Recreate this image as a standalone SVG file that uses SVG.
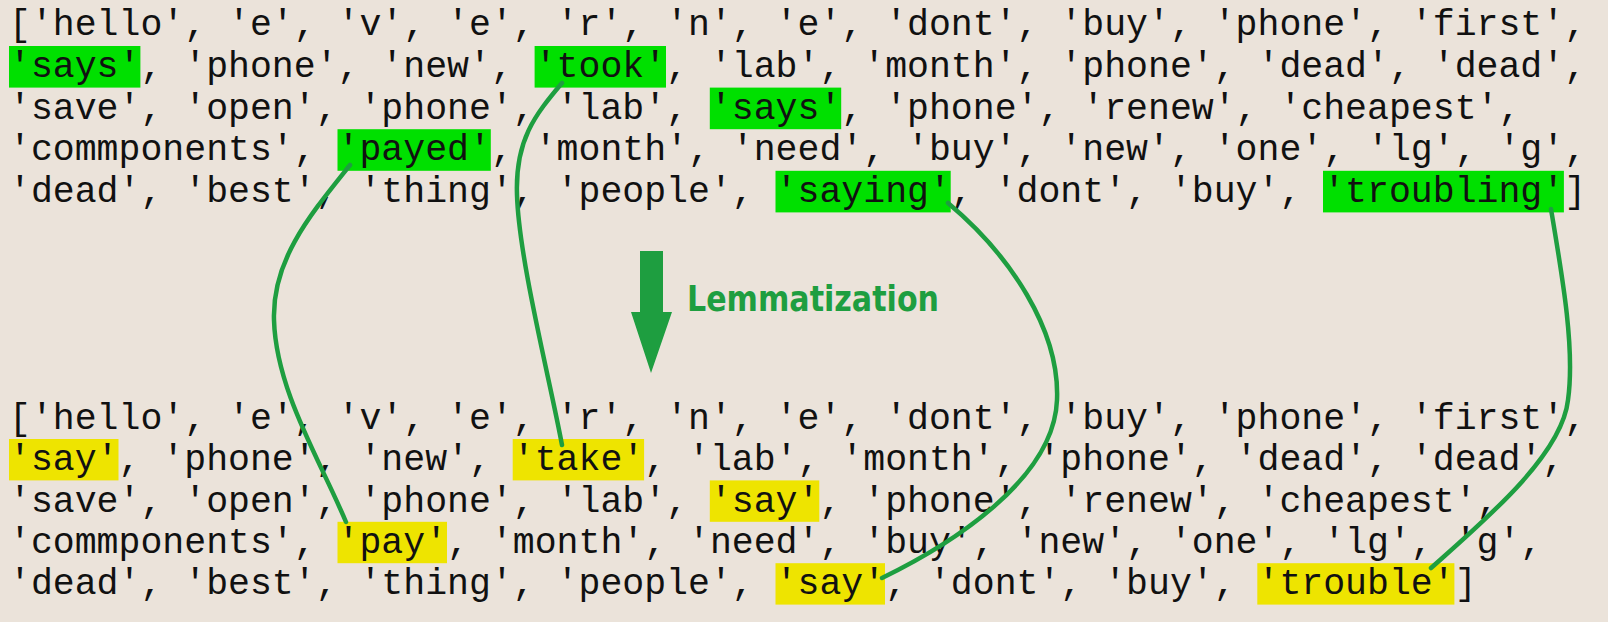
<svg xmlns="http://www.w3.org/2000/svg" width="1608" height="622" viewBox="0 0 1608 622">
<style>
  .bg { fill: #ebe3da; }
  .code { font-family: "Liberation Mono", "Courier New", monospace; font-size: 36.5px; fill: #111111; }
  .hg { fill: #00e000; }
  .hy { fill: #eee400; }
  .link { fill: none; stroke: #1e9e40; stroke-width: 4.5; stroke-linecap: round; }
  .arrow { fill: #1e9e40; }
  .label { font-family: "Comic Sans MS", "DejaVu Sans", sans-serif; font-weight: bold; font-size: 36px; fill: #1e9e40; }
</style>
<rect class="bg" x="0" y="0" width="1608" height="622"/>

<g id="original-tokens">
  <rect class="hg" x="9" y="46" width="131.4" height="41.6"/>
  <rect class="hg" x="534.6" y="46" width="131.4" height="41.6"/>
  <rect class="hg" x="709.8" y="87.6" width="131.4" height="41.6"/>
  <rect class="hg" x="337.5" y="129.2" width="153.3" height="41.6"/>
  <rect class="hg" x="775.5" y="170.8" width="175.2" height="41.6"/>
  <rect class="hg" x="1323" y="170.8" width="240.9" height="41.6"/>
  <text class="code" x="9" y="35.4">['hello', 'e', 'v', 'e', 'r', 'n', 'e', 'dont', 'buy', 'phone', 'first',</text>
  <text class="code" x="9" y="77">'says', 'phone', 'new', 'took', 'lab', 'month', 'phone', 'dead', 'dead',</text>
  <text class="code" x="9" y="118.6">'save', 'open', 'phone', 'lab', 'says', 'phone', 'renew', 'cheapest',</text>
  <text class="code" x="9" y="160.2">'commponents', 'payed', 'month', 'need', 'buy', 'new', 'one', 'lg', 'g',</text>
  <text class="code" x="9" y="201.8">'dead', 'best', 'thing', 'people', 'saying', 'dont', 'buy', 'troubling']</text>
</g>

<g id="lemmatization-step">
  <polygon class="arrow" points="640,251 663,251 663,312 672,312 651,373 631,312 640,312"/>
  <text class="label" x="687" y="311" textLength="252" lengthAdjust="spacingAndGlyphs">Lemmatization</text>
</g>

<g id="lemmatized-tokens">
  <rect class="hy" x="9" y="439" width="109.5" height="41.4"/>
  <rect class="hy" x="512.7" y="439" width="131.4" height="41.4"/>
  <rect class="hy" x="709.8" y="480.4" width="109.5" height="41.4"/>
  <rect class="hy" x="337.5" y="521.8" width="109.5" height="41.4"/>
  <rect class="hy" x="775.5" y="563.2" width="109.5" height="41.4"/>
  <rect class="hy" x="1257.3" y="563.2" width="197.1" height="41.4"/>
  <text class="code" x="9" y="428.8">['hello', 'e', 'v', 'e', 'r', 'n', 'e', 'dont', 'buy', 'phone', 'first',</text>
  <text class="code" x="9" y="470.2">'say', 'phone', 'new', 'take', 'lab', 'month', 'phone', 'dead', 'dead',</text>
  <text class="code" x="9" y="511.6">'save', 'open', 'phone', 'lab', 'say', 'phone', 'renew', 'cheapest',</text>
  <text class="code" x="9" y="553">'commponents', 'pay', 'month', 'need', 'buy', 'new', 'one', 'lg', 'g',</text>
  <text class="code" x="9" y="594.4">'dead', 'best', 'thing', 'people', 'say', 'dont', 'buy', 'trouble']</text>
</g>

<g id="connectors">
  <path class="link" d="M350,165 C310,215 272,260 274,320 C276,390 320,460 346,522"/>
  <path class="link" d="M562,83 C535,115 515,140 517,195 C519,260 550,380 562,445"/>
  <path class="link" d="M948,203 C1010,255 1060,330 1057,400 C1054,480 950,545 882,578"/>
  <path class="link" d="M1551,209 C1563,280 1575,350 1568,400 C1562,455 1485,520 1431,568"/>
</g>
</svg>
